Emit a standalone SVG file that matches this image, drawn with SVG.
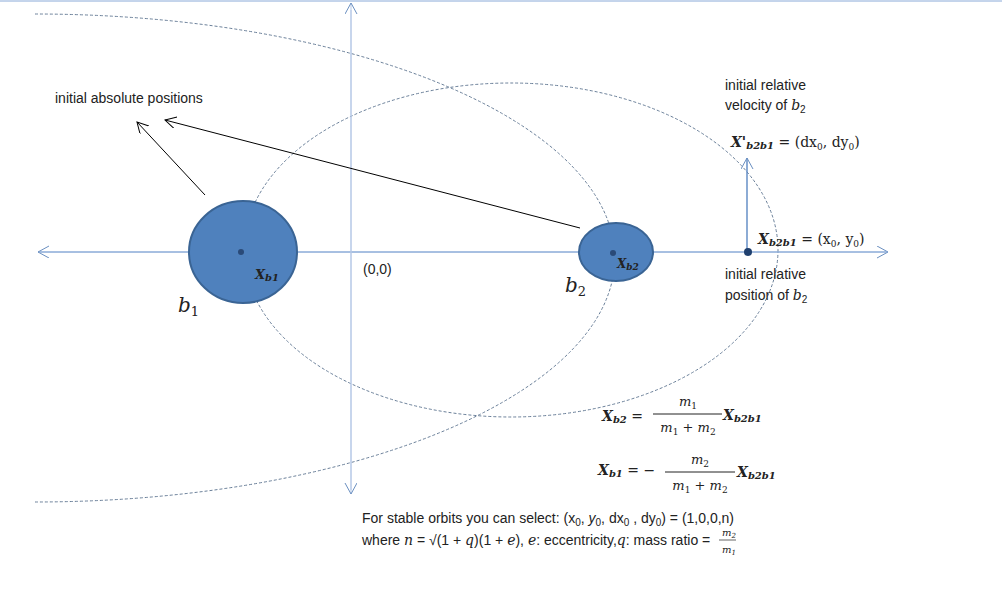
<svg xmlns="http://www.w3.org/2000/svg" width="1002" height="608" viewBox="0 0 1002 608">
<defs>
<marker id="oa" markerWidth="14" markerHeight="14" refX="11" refY="6" orient="auto" markerUnits="userSpaceOnUse"><path d="M0,0 L11,6 L0,12" fill="none" stroke="#6a8fc0" stroke-width="1"/></marker>
<marker id="ba" markerWidth="14" markerHeight="14" refX="11" refY="6" orient="auto" markerUnits="userSpaceOnUse"><path d="M0,0 L11,6 L0,12" fill="none" stroke="#000" stroke-width="1"/></marker>
</defs>
<style>
.ax{stroke:#8aaad8;stroke-width:1;fill:none}
.vax{stroke:#b5c8e6;stroke-width:1;fill:none}
.dash{stroke:#6a7f99;stroke-width:1;fill:none;stroke-dasharray:3,2}
.body{fill:#4f81bd;stroke:#3a6494;stroke-width:2}
.t{font-family:"Liberation Sans",sans-serif;font-size:14px;fill:#222}
.m{font-family:"DejaVu Serif","Liberation Serif",serif;fill:#222}
.mb{font-family:"DejaVu Serif","Liberation Serif",serif;font-weight:bold;font-style:italic;fill:#222}
</style>
<rect width="1002" height="608" fill="#fff"/>
<line x1="0" y1="1" x2="1002" y2="1" stroke="#8aaad8"/>
<g id="orbits">
<ellipse class="dash" cx="511" cy="250" rx="267" ry="167"/>
<path class="dash" d="M35,14 A580,244 0 0 1 35,502"/>
</g>
<g id="connectors">
<line class="ax" x1="40" y1="252" x2="888" y2="252" marker-end="url(#oa)"/>
<line class="ax" x1="888" y1="252" x2="38" y2="252" marker-end="url(#oa)"/>
<line class="vax" x1="351" y1="490" x2="351" y2="3" marker-end="url(#oa)"/>
<line class="vax" x1="351" y1="10" x2="351" y2="494" marker-end="url(#oa)"/>
<line x1="747" y1="252" x2="747" y2="158" stroke="#4f7fbf" stroke-width="1.3" marker-end="url(#oa)"/>
<line x1="205" y1="195" x2="137" y2="122" stroke="#000" marker-end="url(#ba)"/>
<line x1="580" y1="228" x2="165" y2="120" stroke="#000" marker-end="url(#ba)"/>
</g>
<g id="b1"><ellipse class="body" cx="243" cy="252" rx="54" ry="51"/><circle cx="241" cy="252" r="3" fill="#2a4a78"/>
<text class="mb" x="255" y="279" font-size="13">X<tspan font-size="10" dy="2">b1</tspan></text>
<text class="m" x="178" y="312" font-size="20" font-style="italic">b<tspan font-size="13" dy="4" font-style="normal">1</tspan></text></g>
<g id="b2"><ellipse class="body" cx="616" cy="252" rx="37" ry="29"/><circle cx="613" cy="253" r="3" fill="#2a4a78"/>
<text class="mb" x="617" y="268" font-size="12">X<tspan font-size="9" dy="2">b2</tspan></text>
<text class="m" x="565" y="292" font-size="20" font-style="italic">b<tspan font-size="13" dy="4" font-style="normal">2</tspan></text></g>
<g id="rel"><circle cx="748" cy="252" r="4" fill="#1f3f6e"/>
<text class="mb" x="758" y="244" font-size="14">X<tspan font-size="10" dy="2">b2b1</tspan><tspan font-style="normal" font-weight="normal" dy="-2"> = (x</tspan><tspan font-style="normal" font-weight="normal" font-size="9" dy="3">0</tspan><tspan font-style="normal" font-weight="normal" dy="-3">, y</tspan><tspan font-style="normal" font-weight="normal" font-size="9" dy="3">0</tspan><tspan font-style="normal" font-weight="normal" dy="-3">)</tspan></text>
<text class="mb" x="731" y="147" font-size="14">X'<tspan font-size="10" dy="2">b2b1</tspan><tspan font-style="normal" font-weight="normal" dy="-2"> = (dx</tspan><tspan font-style="normal" font-weight="normal" font-size="9" dy="3">0</tspan><tspan font-style="normal" font-weight="normal" dy="-3">, dy</tspan><tspan font-style="normal" font-weight="normal" font-size="9" dy="3">0</tspan><tspan font-style="normal" font-weight="normal" dy="-3">)</tspan></text>
<text class="t" x="725" y="90">initial relative</text>
<text class="t" x="725" y="110">velocity of <tspan font-family="DejaVu Serif" font-style="italic">b</tspan><tspan font-size="10" dy="3">2</tspan></text>
<text class="t" x="725" y="279">initial relative</text>
<text class="t" x="725" y="300">position of <tspan font-family="DejaVu Serif" font-style="italic">b</tspan><tspan font-size="10" dy="3">2</tspan></text></g>
<text class="t" x="55" y="103">initial absolute positions</text>
<text class="t" x="363" y="274">(0,0)</text>
<g id="eq1">
<text class="mb" x="602" y="421" font-size="14">X<tspan font-size="10" dy="2">b2</tspan><tspan font-style="normal" font-weight="normal" dy="-2"> =</tspan></text>
<text class="m" x="688" y="406" font-size="13" text-anchor="middle" font-style="italic">m<tspan font-size="9" dy="3" font-style="normal">1</tspan></text>
<line x1="653" y1="414" x2="722" y2="414" stroke="#222"/>
<text class="m" x="688" y="432" font-size="13" text-anchor="middle" font-style="italic">m<tspan font-size="9" dy="3" font-style="normal">1</tspan><tspan dy="-3" font-style="normal"> + </tspan>m<tspan font-size="9" dy="3" font-style="normal">2</tspan></text>
<text class="mb" x="723" y="420" font-size="14">X<tspan font-size="10" dy="2">b2b1</tspan></text>
</g>
<g id="eq2">
<text class="mb" x="598" y="475" font-size="14">X<tspan font-size="10" dy="2">b1</tspan><tspan font-style="normal" font-weight="normal" dy="-2"> = −</tspan></text>
<text class="m" x="700" y="464" font-size="13" text-anchor="middle" font-style="italic">m<tspan font-size="9" dy="3" font-style="normal">2</tspan></text>
<line x1="665" y1="472" x2="735" y2="472" stroke="#222"/>
<text class="m" x="700" y="490" font-size="13" text-anchor="middle" font-style="italic">m<tspan font-size="9" dy="3" font-style="normal">1</tspan><tspan dy="-3" font-style="normal"> + </tspan>m<tspan font-size="9" dy="3" font-style="normal">2</tspan></text>
<text class="mb" x="737" y="477" font-size="14">X<tspan font-size="10" dy="2">b2b1</tspan></text>
</g>
<text class="t" x="362" y="523" font-size="15">For stable orbits you can select: (x<tspan font-size="10" dy="3">0</tspan><tspan dy="-3">, </tspan><tspan font-style="italic">y</tspan><tspan font-size="10" dy="3">0</tspan><tspan dy="-3">, dx</tspan><tspan font-size="10" dy="3">0</tspan><tspan dy="-3"> , dy</tspan><tspan font-size="10" dy="3">0</tspan><tspan dy="-3">) = (1,0,0,n)</tspan></text>
<text class="t" x="362" y="545" font-size="15">where <tspan font-family="DejaVu Serif" font-style="italic">n</tspan> = √(1 + <tspan font-family="DejaVu Serif" font-style="italic">q</tspan>)(1 + <tspan font-family="DejaVu Serif" font-style="italic">e</tspan>), <tspan font-family="DejaVu Serif" font-style="italic">e</tspan>: eccentricity,<tspan font-family="DejaVu Serif" font-style="italic">q</tspan>: mass ratio =</text>
<text class="m" x="722" y="536" font-size="10" font-style="italic">m<tspan font-size="7" dy="2">2</tspan></text>
<line x1="719" y1="540" x2="736" y2="540" stroke="#222" stroke-width="0.7"/>
<text class="m" x="722" y="553" font-size="10" font-style="italic">m<tspan font-size="7" dy="2">1</tspan></text>
</svg>
